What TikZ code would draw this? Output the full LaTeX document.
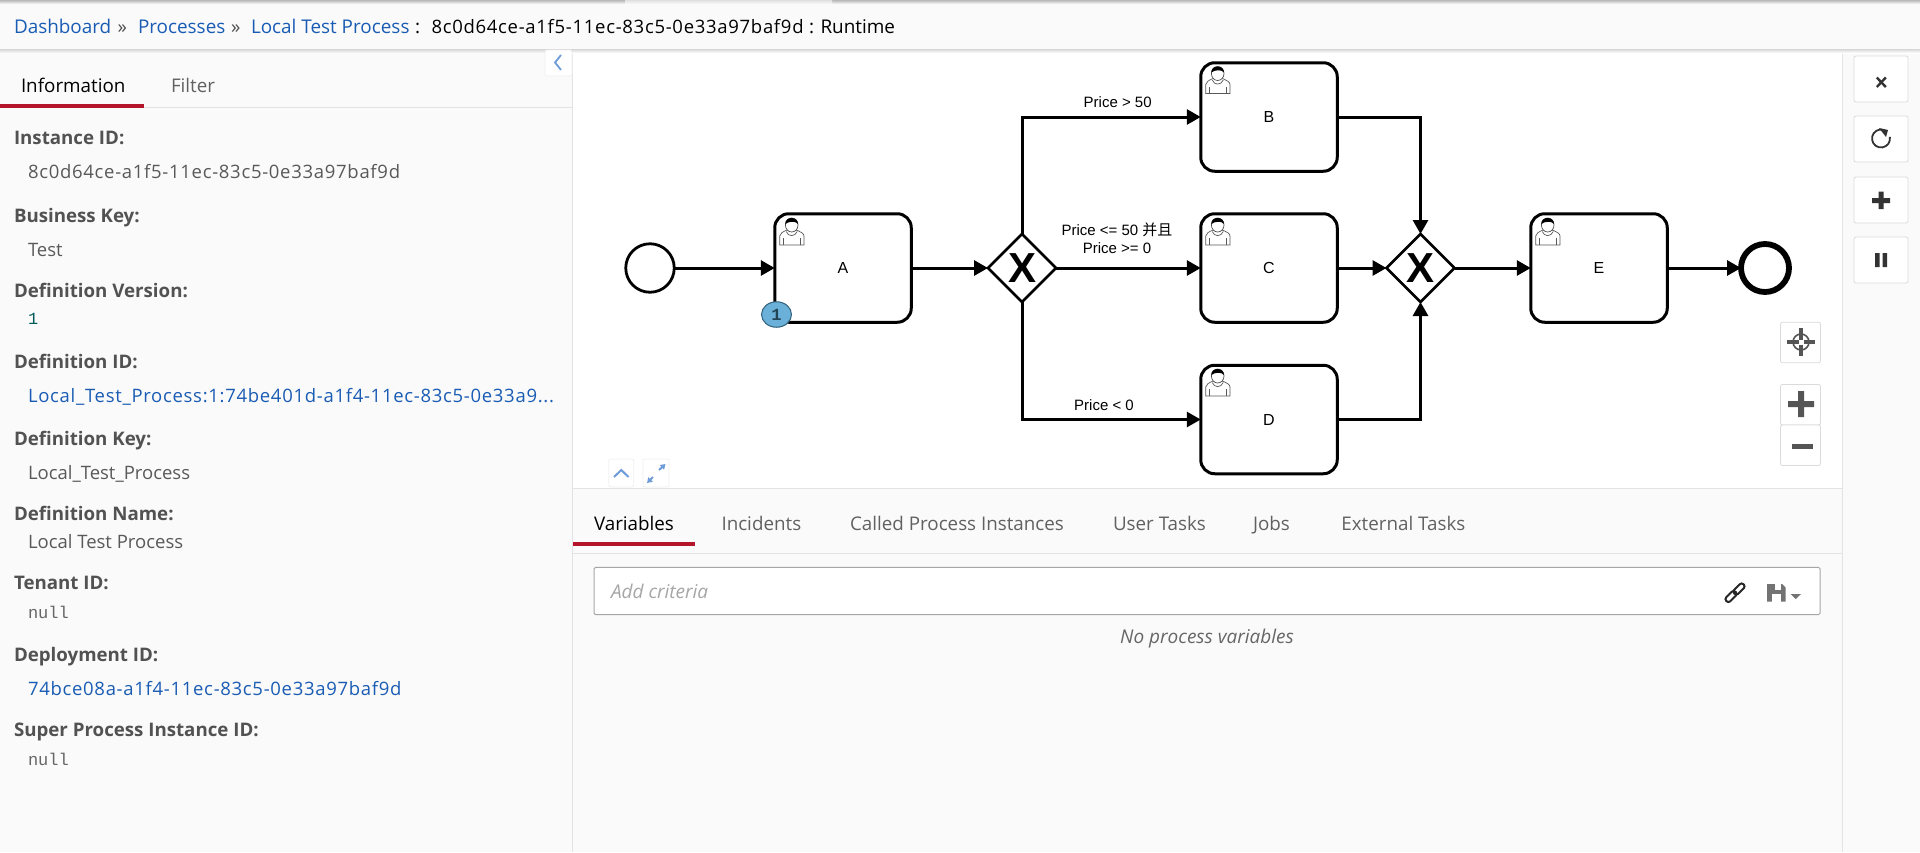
\documentclass[tikz,border=0pt]{standalone}
\usepackage{fontspec}
\usetikzlibrary{arrows.meta,shapes.geometric}
\setmainfont{Open Sans}
\newfontfamily\uidfont[LetterSpace=3.8]{Open Sans}
\newfontfamily\arial{Liberation Sans}
\newfontfamily\plexmono{Liberation Mono}
\newfontfamily\cjk{Noto Sans CJK SC}
\newcommand{\fsz}[1]{\fontsize{#1}{#1}\selectfont}
\definecolor{panelbg}{HTML}{FAFAFA}
\definecolor{rulegray}{HTML}{E3E3E3}
\definecolor{linkblue}{HTML}{1A5CB4}
\definecolor{tabred}{HTML}{B5152B}
\definecolor{softblue}{HTML}{6E9CD8}
\definecolor{iconbg}{HTML}{555555}
\definecolor{badgefill}{HTML}{6BB0D8}
\definecolor{badgeline}{HTML}{2F5F7A}
\tikzset{
  usericon/.pic={
    \draw[black!65,line width=.7pt,fill=white] (5.7,32) -- (5.7,23) .. controls (6,20) and (9,19) .. (12.3,17.3)
      -- (23.3,17.3) .. controls (26,19) and (30,20) .. (30,23) -- (30,32) -- cycle;
    \draw[black!65,line width=.7pt] (9.5,32) -- (9.5,25) (26,32) -- (26,25);
    \draw[black!65,line width=.7pt] (12.3,18.5) .. controls (14,24) and (21,24) .. (23.3,18.5);
    \draw[black!70,line width=.7pt,fill=white] (17.7,12) ellipse [x radius=6.3,y radius=7];
    \fill[black] (11.3,11) .. controls (11,3) and (24,3) .. (24,11) .. controls (22,8) and (15,8) .. cycle;
  }
}
\begin{document}
\begin{tikzpicture}[x=1pt,y=-1pt,
  every node/.style={inner sep=0pt,outer sep=0pt},
  task node/.style={draw,rounded corners=14pt,line width=3pt,fill=white,minimum width=136.5pt,minimum height=108.5pt,font=\arial\fsz{16}},
  gate node/.style={draw,diamond,aspect=1,line width=2.6pt,fill=white,minimum width=68pt,minimum height=68pt,font=\arial\bfseries\fsz{42}},
  flow/.style={line width=3pt,-{Triangle[length=14pt,width=15pt]}},
  flow label/.style={font=\arial\fsz{15},align=center},
  crumb/.style={anchor=mid west,yshift=-3.5pt,font=\fsz{18.9}},
  tab label/.style={anchor=mid west,yshift=-4.5pt,text=black!62,font=\fsz{18.8}},
  info key/.style={anchor=mid west,yshift=-3.5pt,text=black!68,font=\bfseries\fsz{18.7}},
  info val/.style={anchor=mid west,yshift=-3.5pt,text=black!65,font=\fsz{18.5}},
  tool btn/.style={draw=black!14,fill=white,rounded corners=2pt,line width=.8pt,minimum width=54pt,minimum height=46pt},
  zoom btn/.style={draw=black!14,fill=white,rounded corners=2pt,line width=.8pt,minimum width=40pt,minimum height=40.5pt},
  mini btn/.style={draw=black!6,fill=white,rounded corners=2pt,line width=.8pt,minimum width=25pt,minimum height=28pt}]
  \useasboundingbox (0,0) rectangle (1920,852);
  % panels
  \fill[white] (0,0) rectangle (1920,852);
  \fill[panelbg] (0,0) rectangle (572,852);
  \fill[panelbg] (573,488) rectangle (1842,852);
  \fill[panelbg] (1842,49) rectangle (1920,852);
  \draw[rulegray,line width=.8pt] (572.5,49) -- (572.5,852);
  \draw[rulegray,line width=.8pt] (1842.5,49) -- (1842.5,852);
  \draw[rulegray,line width=1pt] (573,488) -- (1842,488);
  % header
  \fill[panelbg] (0,0) rectangle (1920,49);
  \shade[top color=black!28,bottom color=panelbg] (0,0) rectangle (1920,4);
  \shade[top color=black!12,bottom color=panelbg] (625,0) rectangle (832,4);
  \shade[top color=black!16,bottom color=white] (573,49) rectangle (1920,53);
  \shade[top color=black!16,bottom color=panelbg] (0,49) rectangle (573,53);
  \node[crumb,text=linkblue] (c0) at (14,27.5) {Dashboard};
  \node[crumb,text=black!70] (c1) at (117.5,27.5) {»};
  \node[crumb,text=linkblue] (c2) at (138,27.5) {Processes};
  \node[crumb,text=black!70] (c3) at (231,27.5) {»};
  \node[crumb,text=linkblue] (c4) at (251,27.5) {Local Test Process};
  \node[crumb,text=black] (c5) at (415,27.5) {:};
  \node[crumb,text=black,font=\uidfont\fsz{18.5}] (c6) at (431.5,27.5) {8c0d64ce-a1f5-11ec-83c5-0e33a97baf9d};
  \node[crumb,text=black] (c7) at (809,27.5) {:};
  \node[crumb,text=black] (c8) at (820.5,27.5) {Runtime};
  % left panel
  \node[mini btn,minimum width=27pt,minimum height=26pt] (collapse) at (558.5,63) {};
  \draw[softblue,line width=1.8pt] (561,55) -- (555,62.5) -- (561,70);
  \node[tab label,text=black] (t0) at (21,85) {Information};
  \node[tab label] (t1) at (171,85) {Filter};
  \draw[rulegray,line width=1.2pt] (0,107.5) -- (572,107.5);
  \fill[tabred] (0,104) rectangle (144,108);
  \foreach \i/\yy/\txt in {0/138.4/Instance ID:,1/216.7/Business Key:,2/291.4/Definition Version:,3/362.5/Definition ID:,4/439.3/Definition Key:,5/514.3/Definition Name:,6/583.3/Tenant ID:,7/655.3/Deployment ID:,8/730.3/Super Process Instance ID:}
    \node[info key] (k\i) at (14,\yy) {\txt};
  \node[info val,font=\uidfont\fsz{18.5}] (v0) at (28,172.5) {8c0d64ce-a1f5-11ec-83c5-0e33a97baf9d};
  \node[info val] (v1) at (28,250) {Test};
  \node[info val,text=teal!70!black,font=\plexmono\fsz{17}] (v2) at (28,318.5) {1};
  \node[info val,text=linkblue,font=\uidfont\fsz{18.5}] (v3) at (28,396) {Local\_Test\_Process:1:74be401d-a1f4-11ec-83c5-0e33a9...};
  \node[info val] (v4) at (28,473.3) {Local\_Test\_Process};
  \node[info val] (v5) at (28,542.3) {Local Test Process};
  \node[info val,text=black!60,font=\plexmono\fsz{17}] (v6) at (28,612.3) {null};
  \node[info val,text=linkblue,font=\uidfont\fsz{18.5}] (v7) at (28,689.3) {74bce08a-a1f4-11ec-83c5-0e33a97baf9d};
  \node[info val,text=black!60,font=\plexmono\fsz{17}] (v8) at (28,759.3) {null};
  % process
  \node[circle,draw,line width=2.8pt,fill=white,minimum size=48.5pt] (ev0) at (650,268) {};
  \node[circle,draw,line width=5.8pt,fill=white,minimum size=48pt] (ev1) at (1765,268) {};
  \node[task node] (ta) at (843,268) {A};
  \node[task node] (tb) at (1269,117) {B};
  \node[task node] (tc) at (1269,268) {C};
  \node[task node] (td) at (1269,419.5) {D};
  \node[task node] (te) at (1599,268) {E};
  \node[gate node] (gw1) at (1022,268) {X};
  \node[gate node] (gw2) at (1420.5,268) {X};
  \foreach \t/\xx/\yy in {ta/774/213,tb/1200/61.5,tc/1200/213,td/1200/364,te/1530/213}
    \pic at (\xx,\yy) {usericon};
  \path[flow]
  (ev0) edge (ta)
  (ta) edge (gw1)
  (gw1) edge (tc)
  (tc) edge (gw2)
  (gw2) edge (te)
  (te) edge (ev1);
  \draw[flow] (gw1.north) |- (tb);
  \draw[flow] (gw1.south) |- (td);
  \draw[flow] (tb) -| (gw2.north);
  \draw[flow] (td) -| (gw2.south);
  \node[flow label] (l0) at (1117.7,102.5) {Price > 50};
  \node[flow label] (l1) at (1117,238.5) {Price <= 50 {\cjk 并且}\\[3pt]Price >= 0};
  \node[flow label] (l2) at (1104,404.7) {Price < 0};
  \node[ellipse,draw=badgeline,line width=1pt,fill=badgefill,minimum width=30pt,minimum height=25.5pt,text=badgeline!70!black,font=\plexmono\bfseries\fsz{17}] (badge) at (776.5,314.5) {1};
  % diagram controls
  \node[mini btn] (btnup) at (621.3,473) {};
  \node[mini btn,minimum width=26pt] (btnfit) at (656,473) {};
  \draw[softblue,line width=2pt] (614,477) -- (621.3,470) -- (628.5,477);
  \draw[softblue,line width=2pt,-{Triangle[length=5pt,width=6pt]}] (659,470) -- (665.5,464);
  \draw[softblue,line width=2pt,-{Triangle[length=5pt,width=6pt]}] (653,477) -- (647,483);
  \node[zoom btn] (zfit) at (1800.5,342.5) {};
  \node[zoom btn] (zin) at (1800.5,404.7) {};
  \node[zoom btn] (zout) at (1800.5,445.3) {};
  \draw[iconbg,line width=1.6pt] (1801,342) circle [radius=8];
  \draw[iconbg,line width=4.5pt] (1787,342) -- (1798.5,342) (1803.5,342) -- (1815,342) (1801,328) -- (1801,339.5) (1801,344.5) -- (1801,356);
  \fill[iconbg] (1788,401) rectangle (1814,407) (1798,391) rectangle (1804,417);
  \fill[iconbg] (1791.5,443.5) rectangle (1812.5,448.5);
  % right toolbar
  \node[tool btn] (b0) at (1881,79) {};
  \node[tool btn] (b1) at (1881,139) {};
  \node[tool btn] (b2) at (1881,200) {};
  \node[tool btn] (b3) at (1881,260) {};
  \draw[black!80,line width=2.4pt] (1876.8,77.5) -- (1885.8,87) (1885.8,77.5) -- (1876.8,87);
  \draw[black!80,line width=1.8pt] ([shift={(-10:9)}]1881,138.5) arc [start angle=-10,end angle=290,radius=9];
  \fill[black!80] (1879,128) -- (1888,130) -- (1886,137) -- cycle;
  \fill[black!80] (1872,198) rectangle (1890,203) (1878.5,191.5) rectangle (1883.5,209);
  \fill[black!80] (1875,253) rectangle (1879.5,267) (1882.5,253) rectangle (1887,267);
  % lower tabs
  \node[tab label,text=black] (u0) at (594,523.3) {Variables};
  \node[tab label] (u1) at (721.5,523.3) {Incidents};
  \node[tab label] (u2) at (850,523.3) {Called Process Instances};
  \node[tab label] (u3) at (1113,523.3) {User Tasks};
  \node[tab label] (u4) at (1253,523.3) {Jobs};
  \node[tab label] (u5) at (1341.4,523.3) {External Tasks};
  \draw[rulegray,line width=1.2pt] (573,553.5) -- (1842,553.5);
  \fill[tabred] (573,542) rectangle (695,546);
  \node[draw=black!35,fill=white,rounded corners=1.5pt,line width=1pt,minimum width=1226pt,minimum height=47.4pt] (crit) at (1207,591) {};
  \node[anchor=mid west,yshift=-3.5pt,text=black!35,font=\itshape\fsz{19}] (addc) at (611,592.7) {Add criteria};
  \node[text=black!60,font=\itshape\fsz{19}] (novars) at (1207,638.5) {No process variables};
  % search icons
  \draw[black!85,line width=2pt,rounded corners=2.5pt,rotate around={45:(1731,596.5)}] (1724.5,593.7) rectangle (1737.5,599.3);
  \draw[black!85,line width=2pt,rounded corners=2.5pt,rotate around={45:(1739,589)}] (1732.5,586.2) rectangle (1745.5,591.8);
  \fill[black!55] (1767,584) -- (1782,584) -- (1785.5,587.5) -- (1785.5,601.5) -- (1767,601.5) -- cycle;
  \fill[white] (1775,584) rectangle (1780.5,589.5);
  \fill[white] (1771.5,594) rectangle (1780.5,601.5);
  \fill[black!55] (1790.5,594) -- (1801,594) -- (1795.7,599) -- cycle;
\end{tikzpicture}
\end{document}
